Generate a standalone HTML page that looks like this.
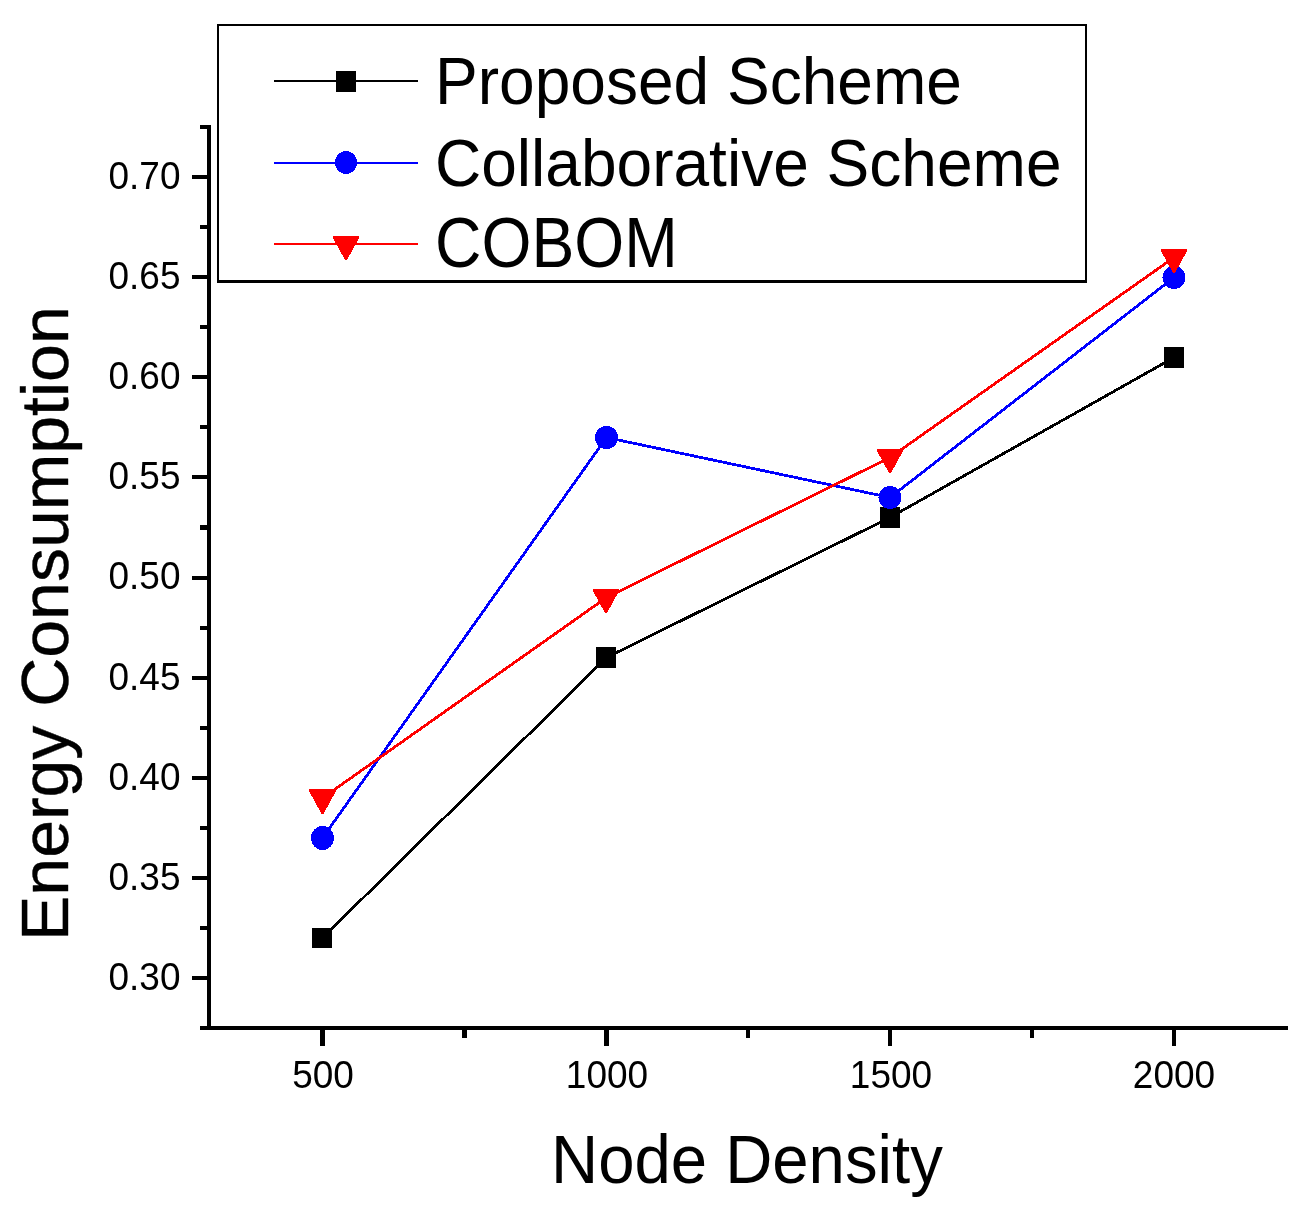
<!DOCTYPE html>
<html>
<head>
<meta charset="utf-8">
<title>Energy Consumption vs Node Density</title>
<style>
html,body{margin:0;padding:0;background:#fff;}
body{width:1308px;height:1209px;overflow:hidden;}
svg{display:block;}
text{font-family:"Liberation Sans",sans-serif;fill:#000;}
.tick{font-size:38px;}
.big{font-size:67px;}
</style>
</head>
<body>
<svg width="1308" height="1209" viewBox="0 0 1308 1209">
<rect x="0" y="0" width="1308" height="1209" fill="#ffffff"/>

<!-- axes -->
<g shape-rendering="crispEdges" fill="#000">
  <rect x="207" y="125" width="4" height="905"/>
  <rect x="200" y="1026" width="1088" height="4"/>
  <!-- y major ticks -->
  <rect x="192" y="175" width="15" height="4"/>
  <rect x="192" y="275" width="15" height="4"/>
  <rect x="192" y="375" width="15" height="4"/>
  <rect x="192" y="475" width="15" height="4"/>
  <rect x="192" y="576" width="15" height="4"/>
  <rect x="192" y="676" width="15" height="4"/>
  <rect x="192" y="776" width="15" height="4"/>
  <rect x="192" y="876" width="15" height="4"/>
  <rect x="192" y="976" width="15" height="4"/>
  <!-- y minor ticks -->
  <rect x="200" y="125" width="7" height="4"/>
  <rect x="200" y="225" width="7" height="4"/>
  <rect x="200" y="325" width="7" height="4"/>
  <rect x="200" y="425" width="7" height="4"/>
  <rect x="200" y="525" width="7" height="5"/>
  <rect x="200" y="626" width="7" height="4"/>
  <rect x="200" y="726" width="7" height="4"/>
  <rect x="200" y="826" width="7" height="4"/>
  <rect x="200" y="926" width="7" height="4"/>
  <!-- x major ticks -->
  <rect x="320" y="1030" width="5" height="16"/>
  <rect x="604" y="1030" width="5" height="16"/>
  <rect x="888" y="1030" width="4" height="16"/>
  <rect x="1172" y="1030" width="4" height="16"/>
  <!-- x minor ticks -->
  <rect x="462" y="1030" width="5" height="8"/>
  <rect x="746" y="1030" width="4" height="8"/>
  <rect x="1030" y="1030" width="4" height="8"/>
</g>

<!-- y tick labels -->
<g class="tick" text-anchor="end">
  <text transform="translate(180.5,189.0) scale(0.974,1)">0.70</text>
  <text transform="translate(180.5,289.1) scale(0.974,1)">0.65</text>
  <text transform="translate(180.5,389.2) scale(0.974,1)">0.60</text>
  <text transform="translate(180.5,489.3) scale(0.974,1)">0.55</text>
  <text transform="translate(180.5,589.4) scale(0.974,1)">0.50</text>
  <text transform="translate(180.5,689.5) scale(0.974,1)">0.45</text>
  <text transform="translate(180.5,789.6) scale(0.974,1)">0.40</text>
  <text transform="translate(180.5,889.7) scale(0.974,1)">0.35</text>
  <text transform="translate(180.5,989.8) scale(0.974,1)">0.30</text>
</g>

<!-- x tick labels -->
<g class="tick" text-anchor="middle">
  <text transform="translate(323,1088) scale(0.974,1)">500</text>
  <text transform="translate(607,1088) scale(0.974,1)">1000</text>
  <text transform="translate(891,1088) scale(0.974,1)">1500</text>
  <text transform="translate(1174,1088) scale(0.974,1)">2000</text>
</g>

<!-- axis titles -->
<text class="big" transform="translate(551,1183) scale(0.96,1)" style="font-size:68px">Node Density</text>
<text class="big" transform="translate(68,941) rotate(-90) scale(1.03,1)" style="font-size:66px" stroke="#000" stroke-width="0.4">Energy Consumption</text>

<!-- data series -->
<g shape-rendering="crispEdges" fill="none" stroke-width="2.8">
  <polyline stroke="#000000" points="322.5,938 606.5,657.5 890,517.5 1174,357.5"/>
  <polyline stroke="#0000ff" points="322.5,838 606.5,437.5 890,497.5 1174,277.5"/>
  <polyline stroke="#ff0000" points="322.5,798 606.5,597.5 890,457.5 1174,257.5"/>
</g>
<g shape-rendering="crispEdges">
  <g fill="#000000">
    <rect x="312" y="928" width="20" height="20"/>
    <rect x="596" y="647" width="20" height="21"/>
    <rect x="880" y="507" width="20" height="21"/>
    <rect x="1164" y="347" width="20" height="21"/>
  </g>
  <g fill="#0000ff">
    <ellipse cx="322.5" cy="838" rx="11.5" ry="12"/>
    <ellipse cx="606.5" cy="437.5" rx="11.5" ry="11.5"/>
    <ellipse cx="890" cy="497.5" rx="11.5" ry="11.5"/>
    <ellipse cx="1174" cy="277.5" rx="11.5" ry="11.5"/>
  </g>
  <g fill="#ff0000">
    <polygon points="309,789 336,789 336,791 323.5,814 321.5,814 309,791"/>
    <polygon points="593,589 619,589 619,591 607.0,613 605.0,613 593,591"/>
    <polygon points="877,449 903,449 903,451 891.0,473 889.0,473 877,451"/>
    <polygon points="1161,249 1187,249 1187,251 1175.0,273 1173.0,273 1161,251"/>
  </g>
</g>

<!-- legend -->
<g shape-rendering="crispEdges">
  <rect x="217" y="24" width="870" height="259" fill="#000000"/>
  <rect x="219" y="26" width="866" height="254" fill="#ffffff"/>
  <rect x="274" y="80" width="144" height="2" fill="#000000"/>
  <rect x="274" y="162" width="144" height="2" fill="#0000ff"/>
  <rect x="274" y="243" width="144" height="2" fill="#ff0000"/>
  <rect x="336" y="71" width="20" height="21" fill="#000000"/>
  <ellipse cx="346" cy="162.5" rx="11" ry="11.5" fill="#0000ff"/>
  <polygon points="333,236 359,236 359,238 347,260 345,260 333,238" fill="#ff0000"/>
</g>
<g class="big">
  <text transform="translate(435,104) scale(0.956,1)" style="font-size:67px">Proposed Scheme</text>
  <text transform="translate(435,186) scale(0.956,1)" style="font-size:67px">Collaborative Scheme</text>
  <text transform="translate(435,267) scale(0.925,1)" style="font-size:69.5px">COBOM</text>
</g>
</svg>
</body>
</html>
